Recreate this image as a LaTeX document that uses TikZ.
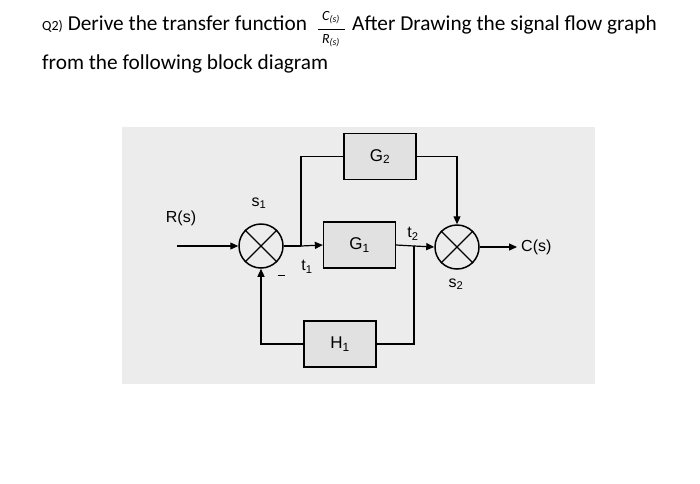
\documentclass[tikz,border=0pt]{standalone}
\usepackage{fontspec}
\setmainfont{Carlito}
\newfontfamily\diagfont{Liberation Sans}
\usetikzlibrary{arrows.meta}
\definecolor{bggray}{RGB}{236,236,236}
\definecolor{boxgray}{RGB}{225,225,225}
\newcommand{\sbs}[1]{\textsubscript{#1}}
\begin{document}
\begin{tikzpicture}[x=1pt,y=-1pt,
  blk/.style={draw,line width=1.3pt,fill=boxgray,minimum width=72pt,minimum height=46pt,font=\diagfont\fontsize{17}{17}\selectfont},
  sumj/.style={draw,line width=1.5pt,circle,minimum size=44pt,inner sep=0pt},
  ln/.style={line width=1.2pt},
  ar/.style={ln,-{Triangle[length=8pt,width=7pt]}},
  lbl/.style={font=\diagfont\fontsize{16}{16}\selectfont,inner sep=0pt},
  ttl/.style={anchor=base west,inner sep=0pt,font=\fontsize{21.3}{21.3}\selectfont}]
\useasboundingbox (0,0) rectangle (700,483);
\fill[white] (0,0) rectangle (700,483);
\fill[bggray] (122,127) rectangle (595,384);
% title
\node[ttl] (t1) at (42,30) {{\fontsize{14}{14}\selectfont Q2)} Derive the transfer function};
\node[inner sep=0pt,font=\fontsize{14}{14}\selectfont\itshape] (fn) at (331,18) {C\sbs{(s)}};
\node[inner sep=0pt,font=\fontsize{14}{14}\selectfont\itshape] (fd) at (331,41) {R\sbs{(s)}};
\draw[line width=0.8pt] (318,29.5)--(345,29.5);
\node[ttl] (t2) at (352,30) {After Drawing the signal flow graph};
\node[ttl] (t3) at (42,69) {from the following block diagram};
% blocks
\node[sumj] (s1) at (261,246) {};
\node[sumj] (s2) at (457,247) {};
\draw[ln] (s1.45)--(s1.225) (s1.135)--(s1.315);
\draw[ln] (s2.45)--(s2.225) (s2.135)--(s2.315);
\node[blk] (g1) at (359.5,245) {G\sbs{1}};
\node[blk] (g2) at (380,156.5) {G\sbs{2}};
\node[blk] (h1) at (340,344) {H\sbs{1}};
\coordinate (rin) at (177,246);
\coordinate (cout) at (517,247);
\coordinate (b1) at (301,246);
\coordinate (b2) at (414,246);
\draw[ar] (rin)--(s1.west);
\draw[ln] (s1.east)--(b1);
\draw[ar] (b1)--(g1.west);
\draw[ln] (g1.east)--(b2);
\draw[ar] (b2)--(s2.west);
\draw[ar] (s2.east)--(cout);
\draw[ln] (b1) |- (g2.west);
\draw[ar] (g2.east) -| (s2.north);
\draw[ln] (b2) |- (h1.east);
\draw[ar] (h1.west) -| (s1.south);
% labels
\node[lbl] (lr) at (181,218) {R(s)};
\node[lbl,anchor=west] (lc) at (521,247) {C(s)};
\node[lbl] (ls1) at (259,203) {s\sbs{1}};
\node[lbl] (ls2) at (456,284) {s\sbs{2}};
\node[lbl] (lt1) at (307,267) {t\sbs{1}};
\node[lbl] (lt2) at (413,234) {t\sbs{2}};
\node[lbl] (lm) at (281,275) {\rule{7pt}{0.8pt}};
\end{tikzpicture}
\end{document}
